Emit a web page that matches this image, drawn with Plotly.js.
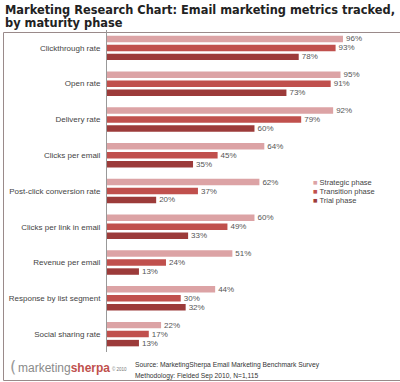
<!DOCTYPE html>
<html><head><meta charset="utf-8">
<script src="https://cdn.plot.ly/plotly-3.0.1.min.js"></script>
<style>html,body{margin:0;padding:0;background:#fff;}#c{width:400px;height:382px;}</style>
</head><body><div id="c"></div>
<script>
var categories = ["Clickthrough rate","Open rate","Delivery rate","Clicks per email","Post-click conversion rate","Clicks per link in email","Revenue per email","Response by list segment","Social sharing rate"];
var seriesNames = ["Strategic phase","Transition phase","Trial phase"];
var strategic = [96,95,92,64,62,60,51,44,22];
var transition = [93,91,79,45,37,49,24,30,17];
var trial = [78,73,60,35,20,33,13,32,13];
var colors = ["#dca3a5","#c0504d","#9c3b3a"];

var L=107, T=30, B=30, W=400, H=382, R=2;
var plotW = W-L-R, plotH = H-T-B;
var xmax = plotW/2.458;

function mk(name, vals, col){
  return {type:'bar', orientation:'h', name:name, y:categories, x:vals,
    marker:{color:col}, text:vals.map(function(v){return v+'%';}),
    textposition:'outside', cliponaxis:false, constraintext:'none',
    textfont:{family:'Liberation Sans, Arial, sans-serif', size:8, color:'#555'},
    hoverinfo:'skip'};
}
var data=[mk(seriesNames[0],strategic,colors[0]),mk(seriesNames[1],transition,colors[1]),mk(seriesNames[2],trial,colors[2])];

function px2x(p){return (p-L)/plotW;}
function py2y(p){return (H-B-p)/plotH;}

var legendY=[183,192,201];
var ann=[];
var tf={family:'DejaVu Sans, Verdana, sans-serif',size:11.4,color:'#222',weight:'bold'};
ann.push({xref:'paper',yref:'paper',x:px2x(3),y:py2y(10),xanchor:'left',yanchor:'middle',showarrow:false,
  text:'Marketing Research Chart: Email marketing metrics tracked,',font:tf});
ann.push({xref:'paper',yref:'paper',x:px2x(3),y:py2y(23),xanchor:'left',yanchor:'middle',showarrow:false,
  text:'by maturity phase',font:tf});
for(var i=0;i<3;i++){
  ann.push({xref:'paper',yref:'paper',x:px2x(311),y:py2y(legendY[i]),xanchor:'left',yanchor:'middle',showarrow:false,
    text:'<span style="color:'+colors[i]+'">■</span> '+seriesNames[i],
    font:{family:'Liberation Sans, Arial, sans-serif',size:7.5,color:'#444'}});
}
ann.push({xref:'paper',yref:'paper',x:px2x(16),y:py2y(368),xanchor:'left',yanchor:'middle',showarrow:false,
  text:'<span style="color:#8a8a8a">marketing</span><span style="color:#c0504d"><b>sherpa</b></span>',
  font:{family:'Liberation Sans, Arial, sans-serif',size:12}});
ann.push({xref:'paper',yref:'paper',x:px2x(8),y:py2y(366),xanchor:'left',yanchor:'middle',showarrow:false,
  text:'(',font:{family:'DejaVu Sans',size:16,color:'#999'}});
ann.push({xref:'paper',yref:'paper',x:px2x(110),y:py2y(369),xanchor:'left',yanchor:'middle',showarrow:false,
  text:'© 2010',font:{family:'Liberation Sans, Arial, sans-serif',size:4.5,color:'#777'}});
ann.push({xref:'paper',yref:'paper',x:px2x(133),y:py2y(365),xanchor:'left',yanchor:'middle',showarrow:false,
  text:'Source: MarketingSherpa Email Marketing Benchmark Survey',font:{family:'Liberation Sans, Arial, sans-serif',size:6.7,color:'#333'}});
ann.push({xref:'paper',yref:'paper',x:px2x(133),y:py2y(376),xanchor:'left',yanchor:'middle',showarrow:false,
  text:'Methodology: Fielded Sep 2010, N=1,115',font:{family:'Liberation Sans, Arial, sans-serif',size:6.7,color:'#333'}});

var layout={
  width:W,height:H,margin:{l:L,r:R,t:T,b:B},
  paper_bgcolor:'#fff',plot_bgcolor:'#fff',
  showlegend:false,
  barmode:'group',bargap:0.246,bargroupgap:0.28,
  xaxis:{range:[0,xmax],visible:false,fixedrange:true},
  yaxis:{type:'category',autorange:'reversed',showline:true,linecolor:'#999',linewidth:1,
    ticks:'',ticklabelstandoff:4,showgrid:false,
    tickfont:{family:'Liberation Sans, Arial, sans-serif',size:8,color:'#444'}},
  shapes:[{type:'rect',xref:'paper',yref:'paper',x0:px2x(3.5),x1:px2x(405),y0:py2y(380.5),y1:py2y(32.5),
    line:{color:'#9a8a8a',width:1},fillcolor:'rgba(0,0,0,0)',layer:'below'}],
  annotations:ann
};
Plotly.newPlot('c',data,layout,{staticPlot:true});
</script></body></html>
